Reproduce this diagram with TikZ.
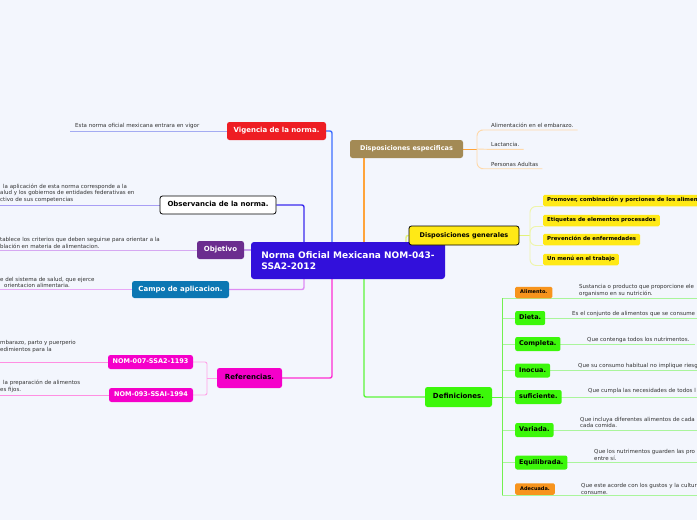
\documentclass[tikz,border=0pt]{standalone}
\usepackage{fontspec}
\setmainfont{DejaVu Sans}
\pgfdeclarelayer{bg}
\pgfdeclarelayer{conn}
\pgfsetlayers{bg,conn,main}
\definecolor{bgc}{HTML}{F3F6FD}
\definecolor{cmain}{HTML}{3210DB}
\definecolor{cred}{HTML}{EE1D23}
\definecolor{cpurp}{HTML}{6B2D8F}
\definecolor{cblue}{HTML}{0C77B3}
\definecolor{cmag}{HTML}{F500CA}
\definecolor{ctan}{HTML}{A38A55}
\definecolor{cyel}{HTML}{FFE916}
\definecolor{cgreen}{HTML}{3CF70A}
\definecolor{corange}{HTML}{F7941D}
\definecolor{ctext}{HTML}{333333}
\definecolor{lvig}{HTML}{3D6EFF}
\definecolor{lvigleaf}{HTML}{A3ABF2}
\definecolor{lobs}{HTML}{3B2BEE}
\definecolor{lobsleaf}{HTML}{A89EF5}
\definecolor{lobj}{HTML}{C9A0EC}
\definecolor{lobjleaf}{HTML}{D6A8F2}
\definecolor{lcampo}{HTML}{DE8CF4}
\definecolor{lcampoleaf}{HTML}{E9A8F7}
\definecolor{lref}{HTML}{FF2DD2}
\definecolor{lrefb}{HTML}{FFA3E8}
\definecolor{lrefleaf}{HTML}{FF8FE2}
\definecolor{lesp}{HTML}{FFA43A}
\definecolor{lespleaf}{HTML}{FFD9AA}
\definecolor{lgen}{HTML}{E2F27A}
\definecolor{lgenleaf}{HTML}{EEF5A8}
\definecolor{ldef}{HTML}{5CF53A}
\definecolor{ldefbar}{HTML}{72F050}
\definecolor{ldefleaf}{HTML}{AAF59C}
\tikzset{
  box/.style={rounded corners=2.5pt, inner sep=0pt, text=white, text height=5.2pt, text depth=1.4pt, font=\fontsize{7}{8}\selectfont\bfseries},
  boxsmall/.style={font=\fontsize{6.5}{7}\selectfont\bfseries, text height=4.8pt, text depth=1.3pt},
  leaftext/.style={inner sep=0pt, anchor=south west, align=left, text=ctext, font=\fontsize{5.5}{6.6}\selectfont},
  yleaf/.style={fill=cyel, rounded corners=1.5pt, inner xsep=4pt, inner ysep=0pt, minimum height=11.5pt, anchor=west, text=black, text height=4pt, text depth=1.2pt, font=\fontsize{5.4}{6}\selectfont\bfseries},
  ditem/.style={fill=cgreen, rounded corners=2pt, inner xsep=4pt, inner ysep=0pt, minimum height=14pt, anchor=west, text=black, text height=4.8pt, text depth=1.3pt, font=\fontsize{6.5}{7}\selectfont\bfseries},
  oitem/.style={fill=corange, rounded corners=1.5pt, inner xsep=5pt, inner ysep=0pt, minimum height=11.5pt, anchor=west, text=black, text height=3.7pt, text depth=1pt, font=\fontsize{5}{6}\selectfont\bfseries},
  mainconn/.style={line width=1.4pt, rounded corners=2pt},
  leafline/.style={line width=0.9pt},
}
\begin{document}
\begin{tikzpicture}[x=1pt,y=-1pt]
\useasboundingbox (0,0) rectangle (697,520);
\begin{pgfonlayer}{bg}
\fill[bgc] (0,0) rectangle (697,520);
\end{pgfonlayer}
\clip (0,0) rectangle (697,520);

\coordinate (xA) at (332,0);
\coordinate (xB) at (304,0);
\coordinate (xC) at (364,0);
\coordinate (xD) at (406,0);
\coordinate (xR) at (207,0);
\coordinate (xE) at (477,0);
\coordinate (xG) at (530,0);
\coordinate (xF) at (502,0);
\coordinate (xRE) at (697,0);
\coordinate (xV) at (70,0);

% central and main nodes
\node[box, fill=cmain, minimum width=194pt, minimum height=37pt, rounded corners=3pt, align=left, text height=, text depth=, font=\fontsize{9}{11}\selectfont\bfseries] (central) at (348,260.5) {Norma Oficial Mexicana NOM-043-\\SSA2-2012};
\node[box, fill=cred, minimum width=99pt, minimum height=18pt] (vig) at (276.5,131) {Vigencia de la norma.};
\node[box, fill=white, draw=black, line width=0.8pt, text=black, minimum width=116pt, minimum height=18pt] (obs) at (218,205) {Observancia de la norma.};
\node[box, fill=cpurp, minimum width=47pt, minimum height=18pt] (obj) at (220.5,250) {Objetivo};
\node[box, fill=cblue, minimum width=97pt, minimum height=17pt] (campo) at (180.5,289.5) {Campo de aplicacion.};
\node[box, fill=cmag, text=black, minimum width=65pt, minimum height=20pt] (ref) at (249.5,378) {Referencias.};
\node[box, boxsmall, fill=cmag, minimum width=85pt, minimum height=14pt] (nom7) at (150.5,362) {NOM-007-SSA2-1193};
\node[box, boxsmall, fill=cmag, minimum width=84pt, minimum height=14pt] (nom93) at (151,395) {NOM-093-SSAI-1994};
\node[box, boxsmall, fill=ctan, minimum width=113pt, minimum height=18pt] (desp) at (406.5,149) {Disposiciones especificas};
\node[box, boxsmall, fill=cyel, draw=black, line width=0.8pt, text=black, minimum width=110pt, minimum height=19pt] (dgen) at (464,235.5) {Disposiciones generales};
\node[box, fill=cgreen, text=black, minimum width=67pt, minimum height=20pt] (def) at (458.5,397) {Definiciones.};

% left leaves
\node[leaftext] (vigleaf) at (75,129.3) {Esta norma oficial mexicana entrara en vigor};
\node[leaftext] (obsleaf) at (0,202.6) {\hspace*{3pt}la aplicación de esta norma corresponde a la\\alud y los gobiernos de entidades federativas en\\ctivo de sus competencias};
\node[leaftext] (objleaf) at (0,248.6) {tablece los criterios que deben seguirse para orientar a la\\blación en materia de alimentacion.};
\node[leaftext] (campoleaf) at (0,287.9) {e del sistema de salud, que ejerce\\\hspace*{4pt}orientacion alimentaria.};
\node[leaftext] (nom7leaf) at (0,352.9) {mbarazo, parto y puerperio\\edimientos para la};
\node[leaftext] (nom93leaf) at (0,392.9) {\hspace*{3pt}la preparación de alimentos\\es fijos.};

% especificas leaves
\node[leaftext, inner xsep=4pt, inner ysep=2.2pt] (e1) at (487,130) {Alimentación en el embarazo.};
\node[leaftext, inner xsep=4pt, inner ysep=2.2pt] (e2) at (487,149.3) {Lactancia.};
\node[leaftext, inner xsep=4pt, inner ysep=2.2pt] (e3) at (487,168.7) {Personas Adultas};

% generales leaves
\node[yleaf] (g1) at (543,200.5) {Promover, combinación y porciones de los alimen};
\node[yleaf] (g2) at (543,220.5) {Etiquetas de elementos procesados};
\node[yleaf] (g3) at (543,239.5) {Prevención de enfermedades};
\node[yleaf] (g4) at (543,259.5) {Un menú en el trabajo};

% definiciones items
\node[oitem] (alim) at (515,292.5) {Alimento.};
\node[ditem] (dieta) at (515,318) {Dieta.};
\node[ditem] (compl) at (515,344) {Completa.};
\node[ditem] (inoc) at (515,370.5) {Inocua.};
\node[ditem] (sufi) at (515,397) {suficiente.};
\node[ditem] (vari) at (515,430) {Variada.};
\node[ditem] (equi) at (515,462.5) {Equilibrada.};
\node[oitem] (adec) at (515,489) {Adecuada.};

% definiciones leaves
\node[leaftext] (alimleaf) at (579,296.9) {Sustancia o producto que proporcione ele\\organismo en su nutrición.};
\node[leaftext] (dietaleaf) at (572,316.9) {Es el conjunto de alimentos que se consume};
\node[leaftext] (compleaf) at (587,342.9) {Que contenga todos los nutrimentos.};
\node[leaftext] (inocleaf) at (578,368.6) {Que su consumo habitual no implique riesg};
\node[leaftext] (sufileaf) at (588,394.3) {Que cumpla las necesidades de todos l};
\node[leaftext] (varileaf) at (580,427.9) {Que incluya diferentes alimentos de cada\\cada comida.};
\node[leaftext] (equileaf) at (594,460.3) {Que los nutrimentos guarden las pro\\entre sí.};
\node[leaftext] (adecleaf) at (581,494.3) {Que este acorde con los gustos y la cultur\\consume.};

\begin{pgfonlayer}{conn}
% main connectors
\draw[mainconn, lvig] (central.north -| xA) |- (vig.east);
\draw[mainconn, lobs] (central.north -| xB) |- (obs.east);
\draw[mainconn, lobj] (obj.east) -- (obj.east -| central.west);
\draw[mainconn, lcampo] (central.south -| xB) |- (campo.east);
\draw[mainconn, lref] (central.south -| xA) |- (ref.east);
\draw[mainconn, lesp] (central.north -| xC) -- (desp.south -| xC);
\draw[mainconn, lgen] (central.north -| xD) |- (dgen.west);
\draw[mainconn, ldef] (central.south -| xC) |- (def.west);

% left leaf lines
\draw[leafline, lvigleaf] (vig.west) -- (vig.west -| xV);
\draw[leafline, lobsleaf] (obs.west) -- (obs.west -| obsleaf.west);
\draw[leafline, lobjleaf] (obj.west) -- (obj.west -| objleaf.west);
\draw[leafline, lcampoleaf] (campo.west) -- (campo.west -| campoleaf.west);
\draw[leafline, lrefleaf] (nom7.west) -- (nom7.west -| nom7leaf.west);
\draw[leafline, lrefleaf] (nom93.west) -- (nom93.west -| nom93leaf.west);
\draw[leafline, lrefb] (ref.west) -- (ref.west -| xR);
\draw[leafline, lrefb, rounded corners=2pt] (nom7.east) -| (ref.west -| xR) |- (nom93.east);

% especificas
\draw[leafline, lesp] (desp.east) -- (desp.east -| xE);
\draw[leafline, lespleaf] (desp.east -| xE) -- (e2.south west) -- (e2.south east);
\draw[leafline, lespleaf, rounded corners=6pt] (desp.east -| xE) |- (e1.south west) -- (e1.south east);
\draw[leafline, lespleaf, rounded corners=6pt] (desp.east -| xE) |- (e3.south west) -- (e3.south east);

% generales
\draw[leafline, lgen] (dgen.east) -- (dgen.east -| xG);
\draw[leafline, lgenleaf, rounded corners=6pt] (dgen.east -| xG) |- (g1.south west);
\draw[leafline, lgenleaf, rounded corners=6pt] (dgen.east -| xG) |- (g2.south west);
\draw[leafline, lgenleaf, rounded corners=6pt] (dgen.east -| xG) |- (g3.south west);
\draw[leafline, lgenleaf, rounded corners=6pt] (dgen.east -| xG) |- (g4.south west);

% definiciones
\draw[leafline, ldef] (def.east) -- (def.east -| xF);
\draw[leafline, ldefleaf] (alim.south -| xF) -- (alim.south -| xRE);
\draw[leafline, ldefleaf] (dieta.west -| xF) -- (dieta.west -| xRE);
\draw[leafline, ldefleaf] (compl.west -| xF) -- ([xshift=5pt]compl.west -| compleaf.east);
\draw[leafline, ldefleaf] (inoc.west -| xF) -- (inoc.west -| xRE);
\draw[leafline, ldefleaf] (sufi.west -| xF) -- (sufi.west -| xRE);
\draw[leafline, ldefleaf] (vari.west -| xF) -- (vari.west -| xRE);
\draw[leafline, ldefleaf] (equi.west -| xF) -- (equi.west -| xRE);
\draw[leafline, ldefleaf] (adec.south -| xF) -- (adec.south -| xRE);
\draw[leafline, ldefbar] (alim.south -| xF) -- (adec.south -| xF);
\end{pgfonlayer}
\end{tikzpicture}
\end{document}
